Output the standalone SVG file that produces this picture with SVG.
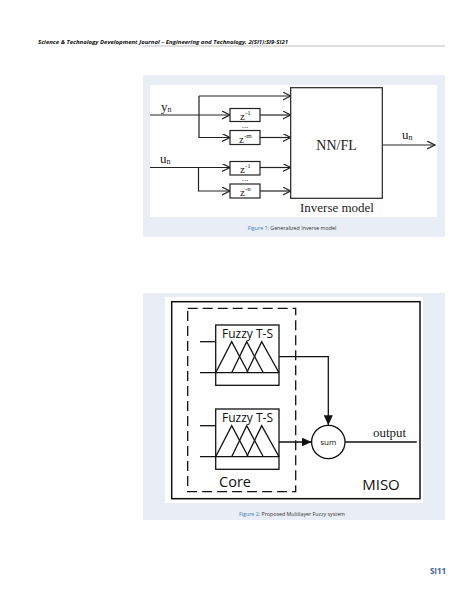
<svg xmlns="http://www.w3.org/2000/svg" width="474" height="612" viewBox="0 0 474 612">
<style>
.ln{stroke:#222;stroke-width:1.2;fill:none}
.ln2{stroke:#111;stroke-width:1.3;fill:none}
.bx{stroke:#222;stroke-width:1.2;fill:#fff}
.ser{font-family:"Liberation Serif",serif;fill:#222}
.sans{font-family:"Open Sans","Liberation Sans",sans-serif;fill:#111}
.cap{font-family:"Open Sans","Liberation Sans",sans-serif;font-size:5.3px;fill:#333}
.capb{fill:#3a7cc0}
</style>
<defs>
<marker id="oa" markerWidth="10" markerHeight="10" refX="8" refY="4" orient="auto" markerUnits="userSpaceOnUse">
<path d="M0,0 L8,4 L0,8" fill="none" stroke="#222" stroke-width="1.2"/>
</marker>
<marker id="fa" markerWidth="12" markerHeight="12" refX="10" refY="4.5" orient="auto" markerUnits="userSpaceOnUse">
<path d="M0,0 L10,4.5 L0,9 Z" fill="#111"/>
</marker>
</defs>
<rect width="474" height="612" fill="#fff"/>
<text x="38" y="44" font-family="Open Sans,Liberation Sans,sans-serif" font-size="6" font-weight="bold" font-style="italic" fill="#111" textLength="250" lengthAdjust="spacingAndGlyphs">Science &amp; Technology Development Journal – Engineering and Technology, 2(SI1):SI9-SI21</text>
<line x1="143" y1="46" x2="445" y2="46" stroke="#999" stroke-width="0.6"/>

<g id="figure1">
<rect x="143" y="75" width="302" height="162" fill="#e9edf5"/>
<rect x="150" y="85" width="287" height="132" fill="#fff"/>
<g id="connectors1">
<line class="ln" x1="150" y1="115" x2="230" y2="115" marker-end="url(#oa)"/>
<polyline class="ln" points="199,96 199,137.5 230,137.5" marker-end="url(#oa)"/>
<line class="ln" x1="199" y1="96" x2="290.7" y2="96" marker-end="url(#oa)"/>
<line class="ln" x1="260" y1="115" x2="290.7" y2="115" marker-end="url(#oa)"/>
<line class="ln" x1="260" y1="137.5" x2="290.7" y2="137.5" marker-end="url(#oa)"/>
<line class="ln" x1="150" y1="167.5" x2="230" y2="167.5" marker-end="url(#oa)"/>
<polyline class="ln" points="198.5,167.5 198.5,191 230,191" marker-end="url(#oa)"/>
<line class="ln" x1="260" y1="167.5" x2="290.7" y2="167.5" marker-end="url(#oa)"/>
<line class="ln" x1="260" y1="191" x2="290.7" y2="191" marker-end="url(#oa)"/>
<line class="ln" x1="382.3" y1="145" x2="435" y2="145" marker-end="url(#oa)"/>
</g>
<text class="ser" x="161" y="111" font-size="13">y<tspan font-size="8" dy="1">n</tspan></text>
<text class="ser" x="160" y="163" font-size="13">u<tspan font-size="8" dy="1">n</tspan></text>
<text class="ser" x="402" y="139" font-size="13">u<tspan font-size="8" dy="1">n</tspan></text>
<g id="z1a"><rect class="bx" x="230" y="108.5" width="30" height="13"/><text class="ser" x="240" y="119.5" font-size="11">z<tspan font-size="7" dy="-5">-1</tspan></text></g>
<text class="ser" x="245" y="128" font-size="9" text-anchor="middle">...</text>
<g id="zma"><rect class="bx" x="230" y="130.5" width="30" height="14"/><text class="ser" x="239" y="142.5" font-size="11">z<tspan font-size="7" dy="-5">-m</tspan></text></g>
<g id="z1b"><rect class="bx" x="230" y="161.5" width="30" height="13.5"/><text class="ser" x="240" y="172.5" font-size="11">z<tspan font-size="7" dy="-5">-1</tspan></text></g>
<text class="ser" x="245" y="181" font-size="9" text-anchor="middle">...</text>
<g id="znb"><rect class="bx" x="230" y="184" width="30" height="14"/><text class="ser" x="240" y="196" font-size="11">z<tspan font-size="7" dy="-5">-n</tspan></text></g>
<g id="nnfl"><rect class="bx" x="290.7" y="87.7" width="91.6" height="110.6"/><text class="ser" x="336.5" y="150" font-size="14" text-anchor="middle">NN/FL</text></g>
<text class="ser" x="337" y="212" font-size="13" text-anchor="middle">Inverse model</text>
<text class="cap" x="292" y="230" text-anchor="middle"><tspan class="capb">Figure 1:</tspan> Generalized Inverse model</text>
</g>

<g id="figure2">
<rect x="143" y="293" width="302" height="227" fill="#e9edf5"/>
<rect x="165" y="297" width="258" height="206" fill="#fff"/>
<g id="miso"><rect x="171.7" y="301.7" width="248.3" height="197" fill="none" stroke="#111" stroke-width="1.5"/><text class="sans" x="381" y="489.5" font-size="15" text-anchor="middle">MISO</text></g>
<g id="core"><rect x="187.7" y="308.3" width="108" height="183.4" fill="none" stroke="#111" stroke-width="1.3" stroke-dasharray="10,5"/><text class="sans" x="235" y="487" font-size="14.5" text-anchor="middle">Core</text></g>
<g id="fuzzy1">
<rect x="215.7" y="325" width="63.3" height="60.3" fill="#fff" stroke="#111" stroke-width="1.3"/>
<line class="ln2" x1="200" y1="341.7" x2="215.7" y2="341.7"/>
<line class="ln2" x1="200" y1="372.7" x2="279" y2="372.7"/>
<polyline class="ln2" points="215.7,372.7 231.7,341.7 248.3,372.7"/>
<polyline class="ln2" points="231.7,372.7 246.7,341.7 263.3,372.7"/>
<polyline class="ln2" points="246.7,372.7 261.7,341.7 279,372.7"/>
<text class="sans" x="247.5" y="337.7" font-size="12" text-anchor="middle">Fuzzy T-S</text>
</g>
<g id="fuzzy2">
<rect x="215.7" y="409" width="63.3" height="60.3" fill="#fff" stroke="#111" stroke-width="1.3"/>
<line class="ln2" x1="200" y1="425.7" x2="215.7" y2="425.7"/>
<line class="ln2" x1="200" y1="456.7" x2="279" y2="456.7"/>
<polyline class="ln2" points="215.7,456.7 231.7,425.7 248.3,456.7"/>
<polyline class="ln2" points="231.7,456.7 246.7,425.7 263.3,456.7"/>
<polyline class="ln2" points="246.7,456.7 261.7,425.7 279,456.7"/>
<text class="sans" x="247.5" y="421.7" font-size="12" text-anchor="middle">Fuzzy T-S</text>
</g>
<g id="connectors2">
<polyline class="ln2" points="279,356.7 328.3,356.7 328.3,425.3" marker-end="url(#fa)"/>
<line class="ln2" x1="279" y1="442" x2="311.6" y2="442" marker-end="url(#fa)"/>
<line class="ln2" x1="345" y1="442" x2="416.7" y2="442"/>
</g>
<g id="sum"><circle cx="328.3" cy="442" r="16.7" fill="#fff" stroke="#111" stroke-width="1.3"/><text class="sans" x="328.3" y="445" font-size="8" text-anchor="middle">sum</text></g>
<text class="ser" x="389.5" y="437.3" font-size="13" text-anchor="middle">output</text>
<text class="cap" x="292" y="516" text-anchor="middle"><tspan class="capb">Figure 2:</tspan> Proposed Multilayer Fuzzy system</text>
</g>
<text x="438" y="574" font-family="Open Sans,Liberation Sans,sans-serif" font-size="8" font-weight="bold" fill="#3d5f99" text-anchor="middle">SI11</text>
</svg>
